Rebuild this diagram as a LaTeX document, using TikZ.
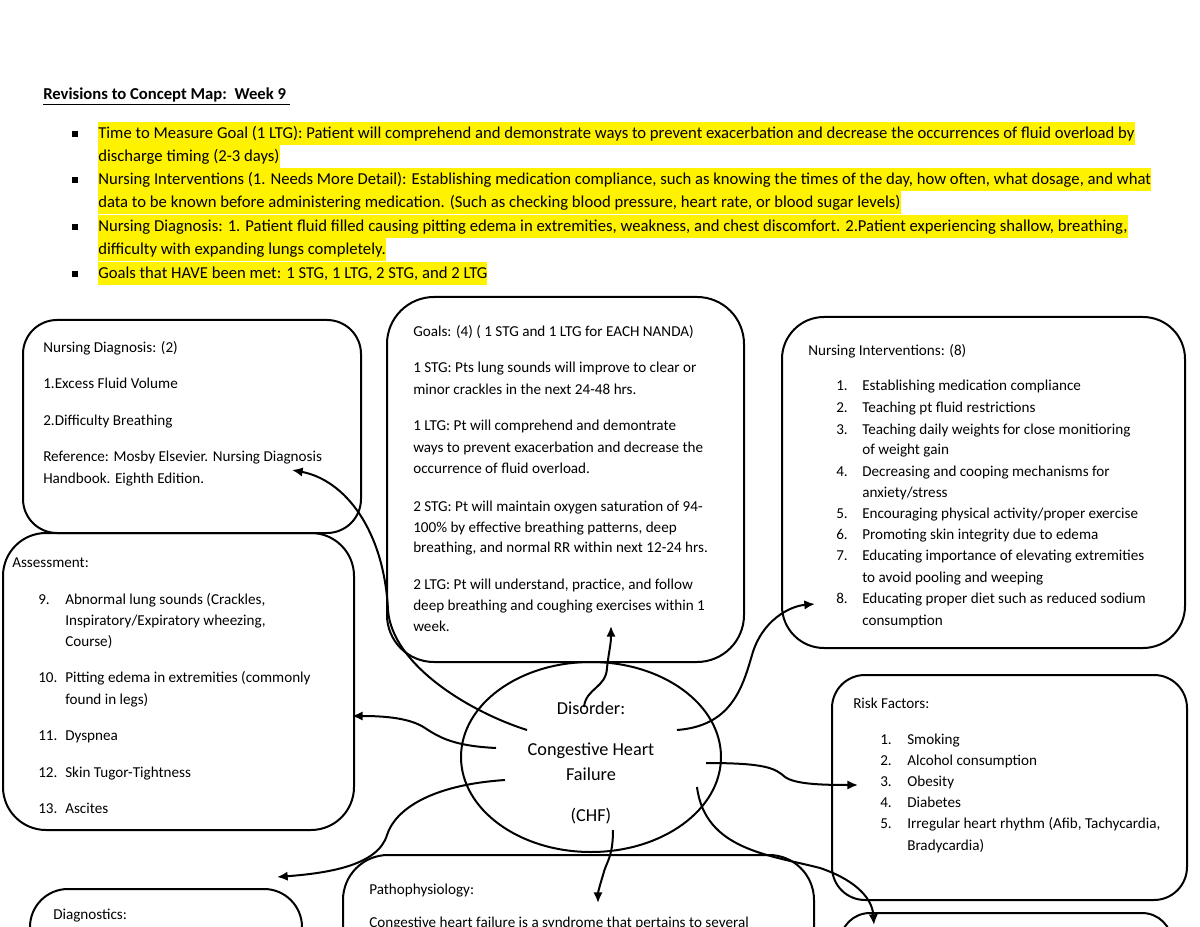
\documentclass[tikz,border=0pt]{standalone}
\usepackage{fontspec}
\setmainfont{Carlito}
\usetikzlibrary{shapes.geometric,arrows.meta}
\newcommand\hdrfont{\fontsize{12.5}{17}\selectfont}
\newcommand\boxfont{\fontsize{11.36}{16}\selectfont}
\newcommand\ellfont{\fontsize{13.7}{18}\selectfont}
\begin{document}
\begin{tikzpicture}[x=0.75pt,y=-0.75pt,
  box/.style={draw, line width=1.5pt, rectangle, inner sep=0pt},
  hl/.style={anchor=base west, inner xsep=0pt, inner ysep=0pt, fill=yellow, text height=12.6pt, text depth=4.4pt, font=\hdrfont},
  txt/.style={anchor=base west, inner sep=0pt, font=\boxfont},
  ctxt/.style={anchor=base, inner sep=0pt, font=\ellfont},
  bul/.style={fill=black, rectangle, inner sep=0pt, minimum size=3.8pt},
  conn/.style={line width=1.5pt, -{Latex[length=8pt,width=7pt]}},
]
\useasboundingbox (0,0) rectangle (1200,927);
\fill[white] (0,0) rectangle (1200,927);

% ---------- header ----------
\node[anchor=base west, inner sep=0pt, font=\hdrfont\bfseries] (title) at (43,100) {\underline{Revisions to Concept Map:\ \ Week 9\ }};
\node[bul] (b1) at (75,134) {};
\node[bul] (b3) at (75,180) {};
\node[bul] (b5) at (75,227) {};
\node[bul] (b7) at (75,274) {};
\node[hl] (h1) at (98,139) {Time to Measure Goal (1 LTG): Patient will comprehend and demonstrate ways to prevent exacerbation and decrease the occurrences of fluid overload by };
\node[hl] (h2) at (98,162) {discharge timing (2-3 days)};
\node[hl] (h3) at (98,185) {Nursing Interventions (1. Needs More Detail): Establishing medication compliance, such as knowing the times of the day, how often, what dosage, and what};
\node[hl] (h4) at (98,208) {data to be known before administering medication. (Such as checking blood pressure, heart rate, or blood sugar levels)};
\node[hl] (h5) at (98,232) {Nursing Diagnosis: 1. Patient fluid filled causing pitting edema in extremities, weakness, and chest discomfort. 2.Patient experiencing shallow, breathing,};
\node[hl] (h6) at (98,255) {difficulty with expanding lungs completely.};
\node[hl] (h7) at (98,279) {Goals that HAVE been met: 1 STG, 1 LTG, 2 STG, and 2 LTG};

% ---------- boxes ----------
\node[box, rounded corners=25.5pt, minimum width=253.5pt, minimum height=159.75pt] (ndbox) at (192,426.5) {};
\node[box, rounded corners=35.25pt, minimum width=267.75pt, minimum height=273.75pt] (goalbox) at (565.5,479.5) {};
\node[box, rounded corners=31.5pt, minimum width=302.25pt, minimum height=248.25pt] (nibox) at (983.5,482.5) {};
\node[box, rounded corners=32.25pt, minimum width=263.25pt, minimum height=222.75pt] (asbox) at (178.5,681.5) {};
\node[box, rounded corners=24.75pt, minimum width=266.25pt, minimum height=168.75pt] (rfbox) at (1009.5,787.5) {};
\node[box, rounded corners=33.75pt, minimum width=353.25pt, minimum height=112.5pt] (pabox) at (578.5,930) {};
\node[box, rounded corners=28.5pt, minimum width=204pt, minimum height=83.25pt] (dgbox) at (166,944.5) {};
\node[box, rounded corners=22.5pt, minimum width=249pt, minimum height=65.25pt] (brbox) at (1006,956.5) {};
\node[draw, ellipse, line width=1.5pt, minimum width=195pt, minimum height=142.5pt, inner sep=0pt] (chf) at (591,757) {};

% ---------- nursing diagnosis ----------
\node[txt] (nd1) at (43,353) {Nursing Diagnosis: (2)};
\node[txt] (nd2) at (43,388) {1.Excess Fluid Volume};
\node[txt] (nd3) at (43,425) {2.Difficulty Breathing};
\node[txt] (nd4) at (43,461) {Reference: Mosby Elsevier. Nursing Diagnosis};
\node[txt] (nd5) at (43,483) {Handbook. Eighth Edition.};

% ---------- goals ----------
\node[txt] (g1) at (413,337) {Goals: (4) ( 1 STG and 1 LTG for EACH NANDA)};
\node[txt] (g2) at (413,373) {1 STG: Pts lung sounds will improve to clear or};
\node[txt] (g3) at (413,394) {minor crackles in the next 24-48 hrs.};
\node[txt] (g4) at (413,431) {1 LTG: Pt will comprehend and demontrate};
\node[txt] (g5) at (413,452) {ways to prevent exacerbation and decrease the};
\node[txt] (g6) at (413,473) {occurrence of fluid overload.};
\node[txt] (g7) at (413,511) {2 STG: Pt will maintain oxygen saturation of 94-};
\node[txt] (g8) at (413,532) {100\% by effective breathing patterns, deep};
\node[txt] (g9) at (413,552) {breathing, and normal RR within next 12-24 hrs.};
\node[txt] (g10) at (413,589) {2 LTG: Pt will understand, practice, and follow};
\node[txt] (g11) at (413,610) {deep breathing and coughing exercises within 1};
\node[txt] (g12) at (413,631) {week.};

% ---------- nursing interventions ----------
\node[txt] (ni0) at (808,355) {Nursing Interventions: (8)};
\node[txt] (nn1) at (836,391) {1.};
\node[txt] (ni1) at (862,391) {Establishing medication compliance};
\node[txt] (nn2) at (836,412) {2.};
\node[txt] (ni2) at (862,412) {Teaching pt fluid restrictions};
\node[txt] (nn3) at (836,434) {3.};
\node[txt] (ni3) at (862,434) {Teaching daily weights for close monitioring};
\node[txt] (ni3b) at (862,454) {of weight gain};
\node[txt] (nn4) at (836,476) {4.};
\node[txt] (ni4) at (862,476) {Decreasing and cooping mechanisms for};
\node[txt] (ni4b) at (862,497) {anxiety/stress};
\node[txt] (nn5) at (836,518) {5.};
\node[txt] (ni5) at (862,518) {Encouraging physical activity/proper exercise};
\node[txt] (nn6) at (836,539) {6.};
\node[txt] (ni6) at (862,539) {Promoting skin integrity due to edema};
\node[txt] (nn7) at (836,560) {7.};
\node[txt] (ni7) at (862,560) {Educating importance of elevating extremities};
\node[txt] (ni7b) at (862,582) {to avoid pooling and weeping};
\node[txt] (nn8) at (836,603) {8.};
\node[txt] (ni8) at (862,603) {Educating proper diet such as reduced sodium};
\node[txt] (ni8b) at (862,625) {consumption};

% ---------- assessment ----------
\node[txt] (as0) at (12,567) {Assessment:};
\node[txt] (an9) at (38,604) {9.};
\node[txt] (as9) at (65,604) {Abnormal lung sounds (Crackles,};
\node[txt] (as9b) at (65,625) {Inspiratory/Expiratory wheezing,};
\node[txt] (as9c) at (65,646) {Course)};
\node[txt] (an10) at (38,682) {10.};
\node[txt] (as10) at (65,682) {Pitting edema in extremities (commonly};
\node[txt] (as10b) at (65,704) {found in legs)};
\node[txt] (an11) at (38,740) {11.};
\node[txt] (as11) at (65,740) {Dyspnea};
\node[txt] (an12) at (38,777) {12.};
\node[txt] (as12) at (65,777) {Skin Tugor-Tightness};
\node[txt] (an13) at (38,813) {13.};
\node[txt] (as13) at (65,813) {Ascites};

% ---------- disorder ----------
\node[ctxt] (c1) at (591,714) {Disorder:};
\node[ctxt] (c2) at (591,755) {Congestive Heart};
\node[ctxt] (c3) at (591,780) {Failure};
\node[ctxt] (c4) at (591,821) {(CHF)};

% ---------- risk factors ----------
\node[txt] (rf0) at (853,708) {Risk Factors:};
\node[txt] (rn1) at (880,744) {1.};
\node[txt] (rf1) at (907,744) {Smoking};
\node[txt] (rn2) at (880,765) {2.};
\node[txt] (rf2) at (907,765) {Alcohol consumption};
\node[txt] (rn3) at (880,786) {3.};
\node[txt] (rf3) at (907,786) {Obesity};
\node[txt] (rn4) at (880,807) {4.};
\node[txt] (rf4) at (907,807) {Diabetes};
\node[txt] (rn5) at (880,828) {5.};
\node[txt] (rf5) at (907,828) {Irregular heart rhythm (Afib, Tachycardia,};
\node[txt] (rf5b) at (907,850) {Bradycardia)};

% ---------- bottom boxes ----------
\node[txt] (pa0) at (369,894) {Pathophysiology:};
\node[txt] (pa1) at (369,927) {Congestive heart failure is a syndrome that pertains to several};
\node[txt] (dg0) at (53,919) {Diagnostics:};

% ---------- connectors ----------
\coordinate (aS) at (527,730);  \coordinate (aE) at (292,470);
\coordinate (bS) at (584,707);  \coordinate (bE) at (611,626);
\coordinate (cS) at (677,730);  \coordinate (cE) at (815,604);
\coordinate (dS) at (706,763);  \coordinate (dE) at (858,785);
\coordinate (eS) at (613,830);  \coordinate (eE) at (598,903);
\coordinate (fS) at (697,787);  \coordinate (fE) at (874,925);
\coordinate (gS) at (505,780);  \coordinate (gE) at (277,877);
\coordinate (hS) at (496,748);  \coordinate (hE) at (352,716);

\draw[conn] (aS) .. controls (470,712) and (392,665) .. (388,610) .. controls (384,530) and (345,480) .. (aE);
\draw[conn] (bS) .. controls (586,688) and (606,688) .. (607,668) .. controls (609,650) and (611,645) .. (bE);
\draw[conn] (cS) .. controls (730,726) and (742,690) .. (752,655) .. controls (762,620) and (790,606) .. (cE);
\draw[conn] (dS) .. controls (765,763) and (775,768) .. (785,777) .. controls (795,784) and (820,785) .. (dE);
\draw[conn] (eS) .. controls (613,858) and (606,862) .. (603,875) .. controls (600,885) and (598,892) .. (eE);
\draw[conn] (fS) .. controls (705,850) and (770,855) .. (820,868) .. controls (850,878) and (872,895) .. (fE);
\draw[conn] (gS) .. controls (430,785) and (395,810) .. (387,835) .. controls (378,865) and (330,873) .. (gE);
\draw[conn] (hS) .. controls (455,746) and (440,738) .. (425,728) .. controls (410,718) and (385,716) .. (hE);
\end{tikzpicture}
\end{document}
